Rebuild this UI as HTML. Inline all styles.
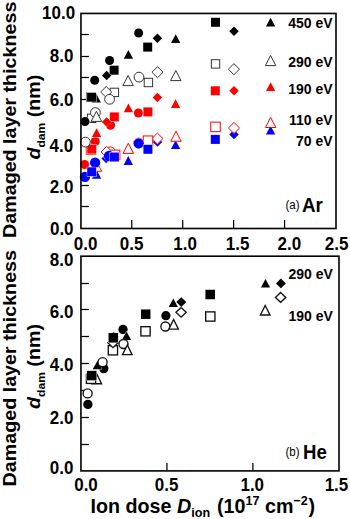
<!DOCTYPE html>
<html><head><meta charset="utf-8"><style>
html,body{margin:0;padding:0;background:#fff;width:350px;height:519px;overflow:hidden;}
svg{display:block;font-family:"Liberation Sans",sans-serif;}
</style></head><body>
<svg width="350" height="519" viewBox="0 0 350 519">
<rect width="350" height="519" fill="#fff"/>
<line x1="131.75" y1="228.5" x2="131.75" y2="219.9" stroke="#000" stroke-width="1.25"/>
<line x1="182.69" y1="228.5" x2="182.69" y2="219.9" stroke="#000" stroke-width="1.25"/>
<line x1="233.62" y1="228.5" x2="233.62" y2="219.9" stroke="#000" stroke-width="1.25"/>
<line x1="284.56" y1="228.5" x2="284.56" y2="219.9" stroke="#000" stroke-width="1.25"/>
<line x1="80.95" y1="206.5" x2="88.9" y2="206.5" stroke="#000" stroke-width="1.25"/>
<line x1="80.95" y1="185.5" x2="88.9" y2="185.5" stroke="#000" stroke-width="1.25"/>
<line x1="80.95" y1="163.5" x2="88.9" y2="163.5" stroke="#000" stroke-width="1.25"/>
<line x1="80.95" y1="142.5" x2="88.9" y2="142.5" stroke="#000" stroke-width="1.25"/>
<line x1="80.95" y1="120.5" x2="88.9" y2="120.5" stroke="#000" stroke-width="1.25"/>
<line x1="80.95" y1="99.5" x2="88.9" y2="99.5" stroke="#000" stroke-width="1.25"/>
<line x1="80.95" y1="77.5" x2="88.9" y2="77.5" stroke="#000" stroke-width="1.25"/>
<line x1="80.95" y1="56.5" x2="88.9" y2="56.5" stroke="#000" stroke-width="1.25"/>
<line x1="80.95" y1="34.5" x2="88.9" y2="34.5" stroke="#000" stroke-width="1.25"/>
<line x1="166.95" y1="470.9" x2="166.95" y2="463.0" stroke="#000" stroke-width="1.25"/>
<line x1="252.9" y1="470.9" x2="252.9" y2="463.0" stroke="#000" stroke-width="1.25"/>
<line x1="80.95" y1="444.5" x2="89.0" y2="444.5" stroke="#000" stroke-width="1.25"/>
<line x1="80.95" y1="417.5" x2="89.0" y2="417.5" stroke="#000" stroke-width="1.25"/>
<line x1="80.95" y1="390.5" x2="89.0" y2="390.5" stroke="#000" stroke-width="1.25"/>
<line x1="80.95" y1="363.5" x2="89.0" y2="363.5" stroke="#000" stroke-width="1.25"/>
<line x1="80.95" y1="336.5" x2="89.0" y2="336.5" stroke="#000" stroke-width="1.25"/>
<line x1="80.95" y1="309.5" x2="89.0" y2="309.5" stroke="#000" stroke-width="1.25"/>
<line x1="80.95" y1="283.5" x2="89.0" y2="283.5" stroke="#000" stroke-width="1.25"/>
<polygon points="106.2,153.65 110.95,158.4 106.2,163.15 101.45,158.4" fill="#0000ff" stroke="#fff" stroke-width="0.8" paint-order="stroke"/>
<polygon points="157.5,137.25 162.25,142 157.5,146.75 152.75,142" fill="#0000ff" stroke="#fff" stroke-width="0.8" paint-order="stroke"/>
<polygon points="234,129.65 238.75,134.4 234,139.15 229.25,134.4" fill="#0000ff" stroke="#fff" stroke-width="0.8" paint-order="stroke"/>
<polygon points="96.6,170 101.25,178.8 91.95,178.8" fill="#0000ff" stroke="#fff" stroke-width="0.8" paint-order="stroke"/>
<polygon points="128.3,156.1 132.95,164.9 123.65,164.9" fill="#0000ff" stroke="#fff" stroke-width="0.8" paint-order="stroke"/>
<polygon points="175.6,140.2 180.25,149 170.95,149" fill="#0000ff" stroke="#fff" stroke-width="0.8" paint-order="stroke"/>
<polygon points="270.6,125.8 275.25,134.6 265.95,134.6" fill="#0000ff" stroke="#fff" stroke-width="0.8" paint-order="stroke"/>
<circle cx="110.4" cy="151.8" r="4.9" fill="#fff" stroke="#ff0000" stroke-width="1.0"/>
<circle cx="138.6" cy="143" r="4.9" fill="#fff" stroke="#ff0000" stroke-width="1.0"/>
<polygon points="106.6,146.36 112.19,151.9 106.6,157.44 101.01,151.9" fill="#fff" stroke="#ff0000" stroke-width="1.0" stroke-linejoin="miter"/>
<polygon points="157.4,133.06 162.99,138.6 157.4,144.14 151.81,138.6" fill="#fff" stroke="#ff0000" stroke-width="1.0" stroke-linejoin="miter"/>
<polygon points="234,122.46 239.59,128 234,133.54 228.41,128" fill="#fff" stroke="#ff0000" stroke-width="1.0" stroke-linejoin="miter"/>
<polygon points="96.5,161.2 101.7,171.3 91.3,171.3" fill="#fff" stroke="#ff0000" stroke-width="1.0" stroke-linejoin="miter"/>
<polygon points="128.3,143.3 133.5,153.4 123.1,153.4" fill="#fff" stroke="#ff0000" stroke-width="1.0" stroke-linejoin="miter"/>
<polygon points="176,131.2 181.2,141.3 170.8,141.3" fill="#fff" stroke="#ff0000" stroke-width="1.0" stroke-linejoin="miter"/>
<polygon points="270.6,117.4 275.8,127.5 265.4,127.5" fill="#fff" stroke="#ff0000" stroke-width="1.0" stroke-linejoin="miter"/>
<rect x="86.25" y="144.65" width="9.5" height="9.5" fill="#fff" stroke="#ff0000" stroke-width="1.0"/>
<rect x="110.35" y="150.15" width="9.5" height="9.5" fill="#fff" stroke="#ff0000" stroke-width="1.0"/>
<rect x="143.25" y="135.95" width="9.5" height="9.5" fill="#fff" stroke="#ff0000" stroke-width="1.0"/>
<rect x="210.75" y="122.15" width="9.5" height="9.5" fill="#fff" stroke="#ff0000" stroke-width="1.0"/>
<circle cx="84.6" cy="164.5" r="4.5" fill="#ff0000" stroke="#fff" stroke-width="0.8" paint-order="stroke"/>
<circle cx="95.2" cy="141.5" r="4.5" fill="#ff0000" stroke="#fff" stroke-width="0.8" paint-order="stroke"/>
<circle cx="110.6" cy="125.3" r="4.5" fill="#ff0000" stroke="#fff" stroke-width="0.8" paint-order="stroke"/>
<circle cx="138.4" cy="113" r="4.5" fill="#ff0000" stroke="#fff" stroke-width="0.8" paint-order="stroke"/>
<polygon points="96.6,128.2 101.25,137 91.95,137" fill="#ff0000" stroke="#fff" stroke-width="0.8" paint-order="stroke"/>
<polygon points="128.4,103.4 133.05,112.2 123.75,112.2" fill="#ff0000" stroke="#fff" stroke-width="0.8" paint-order="stroke"/>
<polygon points="175.6,99.2 180.25,108 170.95,108" fill="#ff0000" stroke="#fff" stroke-width="0.8" paint-order="stroke"/>
<polygon points="270.6,82.3 275.25,91.1 265.95,91.1" fill="#ff0000" stroke="#fff" stroke-width="0.8" paint-order="stroke"/>
<rect x="87.2" y="144.6" width="9" height="9" fill="#ff0000" stroke="#fff" stroke-width="0.8" paint-order="stroke"/>
<rect x="109.8" y="112.4" width="9" height="9" fill="#ff0000" stroke="#fff" stroke-width="0.8" paint-order="stroke"/>
<rect x="143.4" y="107.4" width="9" height="9" fill="#ff0000" stroke="#fff" stroke-width="0.8" paint-order="stroke"/>
<rect x="210.8" y="86.3" width="9" height="9" fill="#ff0000" stroke="#fff" stroke-width="0.8" paint-order="stroke"/>
<polygon points="106.6,117.15 111.35,121.9 106.6,126.65 101.85,121.9" fill="#ff0000" stroke="#fff" stroke-width="0.8" paint-order="stroke"/>
<polygon points="157.4,92.85 162.15,97.6 157.4,102.35 152.65,97.6" fill="#ff0000" stroke="#fff" stroke-width="0.8" paint-order="stroke"/>
<polygon points="234,85.95 238.75,90.7 234,95.45 229.25,90.7" fill="#ff0000" stroke="#fff" stroke-width="0.8" paint-order="stroke"/>
<circle cx="84.9" cy="176.9" r="5.15" fill="#0000ff" stroke="#fff" stroke-width="0.8" paint-order="stroke"/>
<circle cx="95.1" cy="162.7" r="5.15" fill="#0000ff" stroke="#fff" stroke-width="0.8" paint-order="stroke"/>
<circle cx="109" cy="156" r="5.15" fill="#0000ff" stroke="#fff" stroke-width="0.8" paint-order="stroke"/>
<circle cx="138.7" cy="143.4" r="5.15" fill="#0000ff" stroke="#fff" stroke-width="0.8" paint-order="stroke"/>
<rect x="87.2" y="167.3" width="9" height="9" fill="#0000ff" stroke="#fff" stroke-width="0.8" paint-order="stroke"/>
<rect x="109.9" y="152.5" width="9" height="9" fill="#0000ff" stroke="#fff" stroke-width="0.8" paint-order="stroke"/>
<rect x="143.4" y="144.8" width="9" height="9" fill="#0000ff" stroke="#fff" stroke-width="0.8" paint-order="stroke"/>
<rect x="210.8" y="134.9" width="9" height="9" fill="#0000ff" stroke="#fff" stroke-width="0.8" paint-order="stroke"/>
<rect x="87.4" y="114.1" width="8.4" height="8.4" fill="#fff" stroke="#333" stroke-width="1.0"/>
<rect x="110.2" y="88.2" width="8.4" height="8.4" fill="#fff" stroke="#333" stroke-width="1.0"/>
<rect x="144.2" y="78.3" width="8.4" height="8.4" fill="#fff" stroke="#333" stroke-width="1.0"/>
<rect x="211.3" y="59.7" width="8.4" height="8.4" fill="#fff" stroke="#333" stroke-width="1.0"/>
<polygon points="106.2,86.46 111.79,92 106.2,97.54 100.61,92" fill="#fff" stroke="#333" stroke-width="1.0" stroke-linejoin="miter"/>
<polygon points="157.5,66.66 163.09,72.2 157.5,77.74 151.91,72.2" fill="#fff" stroke="#333" stroke-width="1.0" stroke-linejoin="miter"/>
<polygon points="233.9,63.66 239.49,69.2 233.9,74.74 228.31,69.2" fill="#fff" stroke="#333" stroke-width="1.0" stroke-linejoin="miter"/>
<circle cx="85.4" cy="142.1" r="4.9" fill="#fff" stroke="#333" stroke-width="1.0"/>
<circle cx="95.4" cy="112.6" r="4.9" fill="#fff" stroke="#333" stroke-width="1.0"/>
<circle cx="109.6" cy="99.3" r="4.9" fill="#fff" stroke="#333" stroke-width="1.0"/>
<circle cx="139" cy="77.1" r="4.9" fill="#fff" stroke="#333" stroke-width="1.0"/>
<polygon points="96.4,111.3 101.6,121.4 91.2,121.4" fill="#fff" stroke="#333" stroke-width="1.0" stroke-linejoin="miter"/>
<polygon points="128.1,75.5 133.3,85.6 122.9,85.6" fill="#fff" stroke="#333" stroke-width="1.0" stroke-linejoin="miter"/>
<polygon points="175.8,70.5 181,80.6 170.6,80.6" fill="#fff" stroke="#333" stroke-width="1.0" stroke-linejoin="miter"/>
<polygon points="270.6,55.5 275.8,65.6 265.4,65.6" fill="#fff" stroke="#333" stroke-width="1.0" stroke-linejoin="miter"/>
<polygon points="96.2,93.6 100.85,102.4 91.55,102.4" fill="#000" stroke="#fff" stroke-width="0.8" paint-order="stroke"/>
<polygon points="128.4,49.9 133.05,58.7 123.75,58.7" fill="#000" stroke="#fff" stroke-width="0.8" paint-order="stroke"/>
<polygon points="175.7,34.15 180.35,42.95 171.05,42.95" fill="#000" stroke="#fff" stroke-width="0.8" paint-order="stroke"/>
<polygon points="270.6,17.65 275.25,26.45 265.95,26.45" fill="#000" stroke="#fff" stroke-width="0.8" paint-order="stroke"/>
<line x1="86.5" y1="92.1" x2="86.5" y2="102.1" stroke="#555" stroke-width="1.1"/>
<rect x="87.1" y="92.7" width="9" height="9" fill="#000" stroke="#fff" stroke-width="0.8" paint-order="stroke"/>
<rect x="109.6" y="65.7" width="9" height="9" fill="#000" stroke="#fff" stroke-width="0.8" paint-order="stroke"/>
<rect x="143.2" y="42.6" width="9" height="9" fill="#000" stroke="#fff" stroke-width="0.8" paint-order="stroke"/>
<rect x="211" y="17.8" width="9" height="9" fill="#000" stroke="#fff" stroke-width="0.8" paint-order="stroke"/>
<circle cx="85" cy="121.6" r="4.5" fill="#000" stroke="#fff" stroke-width="0.8" paint-order="stroke"/>
<circle cx="94.7" cy="80.3" r="4.5" fill="#000" stroke="#fff" stroke-width="0.8" paint-order="stroke"/>
<circle cx="109.6" cy="60.5" r="4.5" fill="#000" stroke="#fff" stroke-width="0.8" paint-order="stroke"/>
<circle cx="138.65" cy="32.95" r="4.5" fill="#000" stroke="#fff" stroke-width="0.8" paint-order="stroke"/>
<polygon points="106.7,70.65 111.45,75.4 106.7,80.15 101.95,75.4" fill="#000" stroke="#fff" stroke-width="0.8" paint-order="stroke"/>
<polygon points="157.4,33.55 162.15,38.3 157.4,43.05 152.65,38.3" fill="#000" stroke="#fff" stroke-width="0.8" paint-order="stroke"/>
<polygon points="234,26.45 238.75,31.2 234,35.95 229.25,31.2" fill="#000" stroke="#fff" stroke-width="0.8" paint-order="stroke"/>
<circle cx="87.9" cy="404.4" r="4.65" fill="#000" stroke="#fff" stroke-width="0.8" paint-order="stroke"/>
<circle cx="103.8" cy="368.6" r="4.65" fill="#000" stroke="#fff" stroke-width="0.8" paint-order="stroke"/>
<circle cx="123" cy="329.5" r="4.65" fill="#000" stroke="#fff" stroke-width="0.8" paint-order="stroke"/>
<circle cx="165.9" cy="315.7" r="4.65" fill="#000" stroke="#fff" stroke-width="0.8" paint-order="stroke"/>
<polygon points="97.4,360.75 102,369.25 92.8,369.25" fill="#000" stroke="#fff" stroke-width="0.8" paint-order="stroke"/>
<polygon points="126.5,331.55 131.1,340.05 121.9,340.05" fill="#000" stroke="#fff" stroke-width="0.8" paint-order="stroke"/>
<polygon points="173.3,298.6 177.9,307.1 168.7,307.1" fill="#000" stroke="#fff" stroke-width="0.8" paint-order="stroke"/>
<polygon points="265.5,279 270.1,287.5 260.9,287.5" fill="#000" stroke="#fff" stroke-width="0.8" paint-order="stroke"/>
<circle cx="87.6" cy="393.4" r="4.53" fill="#fff" stroke="#111" stroke-width="1.35"/>
<circle cx="102.6" cy="362.2" r="4.53" fill="#fff" stroke="#111" stroke-width="1.35"/>
<circle cx="123.5" cy="344" r="4.53" fill="#fff" stroke="#111" stroke-width="1.35"/>
<circle cx="165.4" cy="326.5" r="4.53" fill="#fff" stroke="#111" stroke-width="1.35"/>
<polygon points="96.8,374.15 101.58,383.73 92.02,383.73" fill="#fff" stroke="#111" stroke-width="1.35" stroke-linejoin="miter"/>
<polygon points="127.3,345.05 132.09,354.62 122.52,354.62" fill="#fff" stroke="#111" stroke-width="1.35" stroke-linejoin="miter"/>
<polygon points="173.6,319.55 178.38,329.12 168.81,329.12" fill="#fff" stroke="#111" stroke-width="1.35" stroke-linejoin="miter"/>
<polygon points="265.2,305.45 269.99,315.02 260.41,315.02" fill="#fff" stroke="#111" stroke-width="1.35" stroke-linejoin="miter"/>
<rect x="86.38" y="374.18" width="9.25" height="9.25" fill="#fff" stroke="#111" stroke-width="1.35"/>
<rect x="108.28" y="345.68" width="9.25" height="9.25" fill="#fff" stroke="#111" stroke-width="1.35"/>
<rect x="140.88" y="326.68" width="9.25" height="9.25" fill="#fff" stroke="#111" stroke-width="1.35"/>
<rect x="205.68" y="311.88" width="9.25" height="9.25" fill="#fff" stroke="#111" stroke-width="1.35"/>
<polygon points="113,337.95 118.15,342.8 113,347.65 107.85,342.8" fill="#fff" stroke="#111" stroke-width="1.35" stroke-linejoin="miter"/>
<polygon points="181.1,307.45 186.25,312.3 181.1,317.15 175.95,312.3" fill="#fff" stroke="#111" stroke-width="1.35" stroke-linejoin="miter"/>
<polygon points="280.6,292.55 285.75,297.4 280.6,302.25 275.45,297.4" fill="#fff" stroke="#111" stroke-width="1.35" stroke-linejoin="miter"/>
<polygon points="113.5,331.7 118.5,336.6 113.5,341.5 108.5,336.6" fill="#000" stroke="#fff" stroke-width="0.8" paint-order="stroke"/>
<polygon points="181.3,297.2 186.3,302.1 181.3,307 176.3,302.1" fill="#000" stroke="#fff" stroke-width="0.8" paint-order="stroke"/>
<polygon points="280.9,278.5 285.9,283.4 280.9,288.3 275.9,283.4" fill="#000" stroke="#fff" stroke-width="0.8" paint-order="stroke"/>
<rect x="87" y="370.85" width="9.5" height="9.5" fill="#000" stroke="#fff" stroke-width="0.8" paint-order="stroke"/>
<rect x="108.55" y="333.05" width="9.5" height="9.5" fill="#000" stroke="#fff" stroke-width="0.8" paint-order="stroke"/>
<rect x="140.95" y="309.45" width="9.5" height="9.5" fill="#000" stroke="#fff" stroke-width="0.8" paint-order="stroke"/>
<rect x="205.45" y="289.75" width="9.5" height="9.5" fill="#000" stroke="#fff" stroke-width="0.8" paint-order="stroke"/>
<rect x="80.95" y="13.45" width="255.05" height="215.05" fill="none" stroke="#000" stroke-width="1.6"/>
<rect x="80.95" y="256.2" width="258.05" height="214.7" fill="none" stroke="#000" stroke-width="1.6"/>
<text transform="translate(58.55,18.5) scale(1,1.045)" font-size="17.0" font-weight="bold" text-anchor="middle" >10.0</text>
<text transform="translate(61.6,61.85) scale(1,1.045)" font-size="17.0" font-weight="bold" text-anchor="middle" >8.0</text>
<text transform="translate(61.6,106.45) scale(1,1.045)" font-size="17.0" font-weight="bold" text-anchor="middle" >6.0</text>
<text transform="translate(61.3,151.55) scale(1,1.045)" font-size="17.0" font-weight="bold" text-anchor="middle" >4.0</text>
<text transform="translate(61.6,193.15) scale(1,1.045)" font-size="17.0" font-weight="bold" text-anchor="middle" >2.0</text>
<text transform="translate(61.75,234.75) scale(1,1.045)" font-size="17.0" font-weight="bold" text-anchor="middle" >0.0</text>
<text transform="translate(85.65,249.55) scale(1,1.045)" font-size="17.0" font-weight="bold" text-anchor="middle" >0.0</text>
<text transform="translate(131.55,249.55) scale(1,1.045)" font-size="17.0" font-weight="bold" text-anchor="middle" >0.5</text>
<text transform="translate(185.15,249.55) scale(1,1.045)" font-size="17.0" font-weight="bold" text-anchor="middle" >1.0</text>
<text transform="translate(237.65,249.55) scale(1,1.045)" font-size="17.0" font-weight="bold" text-anchor="middle" >1.5</text>
<text transform="translate(289.3,249.55) scale(1,1.045)" font-size="17.0" font-weight="bold" text-anchor="middle" >2.0</text>
<text transform="translate(336.55,249.55) scale(1,1.045)" font-size="17.0" font-weight="bold" text-anchor="middle" >2.5</text>
<text transform="translate(61.55,266.2) scale(1,1.045)" font-size="17.0" font-weight="bold" text-anchor="middle" >8.0</text>
<text transform="translate(61.55,318) scale(1,1.045)" font-size="17.0" font-weight="bold" text-anchor="middle" >6.0</text>
<text transform="translate(61.55,370.8) scale(1,1.045)" font-size="17.0" font-weight="bold" text-anchor="middle" >4.0</text>
<text transform="translate(61.55,424.2) scale(1,1.045)" font-size="17.0" font-weight="bold" text-anchor="middle" >2.0</text>
<text transform="translate(61.55,473.55) scale(1,1.045)" font-size="17.0" font-weight="bold" text-anchor="middle" >0.0</text>
<text transform="translate(86,491.35) scale(1,1.045)" font-size="17.0" font-weight="bold" text-anchor="middle" >0.0</text>
<text transform="translate(166.55,491.35) scale(1,1.045)" font-size="17.0" font-weight="bold" text-anchor="middle" >0.5</text>
<text transform="translate(252.25,491.35) scale(1,1.045)" font-size="17.0" font-weight="bold" text-anchor="middle" >1.0</text>
<text transform="translate(336.45,491.35) scale(1,1.045)" font-size="17.0" font-weight="bold" text-anchor="middle" >1.5</text>
<text transform="translate(332.6,28.3) scale(1,1.045)" font-size="14.0" font-weight="bold" text-anchor="end" >450 eV</text>
<text transform="translate(332.6,67) scale(1,1.045)" font-size="14.0" font-weight="bold" text-anchor="end" >290 eV</text>
<text transform="translate(332.6,93.9) scale(1,1.045)" font-size="14.0" font-weight="bold" text-anchor="end" >190 eV</text>
<text transform="translate(332.6,125.1) scale(1,1.045)" font-size="14.0" font-weight="bold" text-anchor="end" >110 eV</text>
<text transform="translate(332.6,145.8) scale(1,1.045)" font-size="14.0" font-weight="bold" text-anchor="end" >70 eV</text>
<text transform="translate(332.8,279.1) scale(1,1.045)" font-size="14.0" font-weight="bold" text-anchor="end" >290 eV</text>
<text transform="translate(332.8,321) scale(1,1.045)" font-size="14.0" font-weight="bold" text-anchor="end" >190 eV</text>
<text transform="translate(299.6,208.6) scale(1,1.045)" font-size="11.5" font-weight="normal" text-anchor="end" >(a)</text>
<text transform="translate(302,211.8) scale(1,1.045)" font-size="18.8" font-weight="bold" text-anchor="start" >Ar</text>
<text transform="translate(299.6,455.8) scale(1,1.045)" font-size="11.5" font-weight="normal" text-anchor="end" >(b)</text>
<text transform="translate(303,458.8) scale(1,1.045)" font-size="18.6" font-weight="bold" text-anchor="start" >He</text>
<text transform="translate(16,119.8) rotate(-90) scale(1.042,1)" font-size="18.9" font-weight="bold" text-anchor="middle">Damaged layer thickness</text>
<text transform="translate(39.6,117.1) rotate(-90) scale(1.042,1)" font-size="18.9" font-weight="bold" text-anchor="middle"><tspan font-style="italic">d</tspan><tspan font-size="11.6" dy="5.5">dam</tspan><tspan dy="-5.5"> (nm)</tspan></text>
<text transform="translate(16,368.2) rotate(-90) scale(1.042,1)" font-size="18.9" font-weight="bold" text-anchor="middle">Damaged layer thickness</text>
<text transform="translate(39.6,366.5) rotate(-90) scale(1.042,1)" font-size="18.9" font-weight="bold" text-anchor="middle"><tspan font-style="italic">d</tspan><tspan font-size="11.6" dy="5.5">dam</tspan><tspan dy="-5.5"> (nm)</tspan></text>
<text transform="translate(90.6,513.3) scale(1,1.045)" font-size="19.7" font-weight="bold">Ion dose <tspan font-style="italic">D</tspan><tspan font-size="12.6" dy="4">ion</tspan><tspan dy="-4"> </tspan><tspan dx="1.5">(10</tspan><tspan font-size="12.6" dy="-7.5">17</tspan><tspan dy="7.5"> cm</tspan><tspan font-size="12.6" dy="-7.5">−2</tspan><tspan dy="7.5" dx="0.6">)</tspan></text>
</svg>
</body></html>
